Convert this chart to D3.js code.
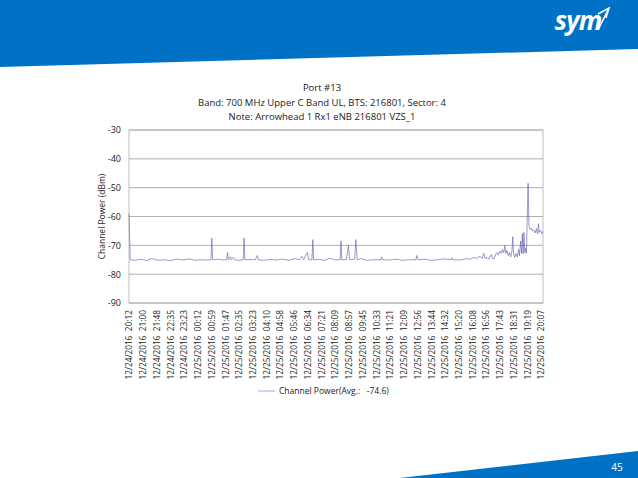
<!DOCTYPE html>
<html lang="en">
<head>
<meta charset="utf-8">
<script src="https://d3js.org/d3.v7.js"></script>
<style>
  body { margin: 0; background: white; }
  text { font-family: "Open Sans", "Noto Sans", sans-serif; }
</style>
</head>
<body>
<script>
// sample position along the run (0..1000) and channel power in dBm
const sampleIdx = [0,3,15,30,42,55,70,85,100,115,130,145,160,175,190,198,200,202,215,228,236,238,240,245,247,252,255,265,276,278,280,292,305,310,312,325,340,355,370,385,400,412,418,422,428,431,434,442,444,446,460,472,485,500,510,512,514,525,530,533,545,548,551,560,575,590,608,610,613,630,645,660,675,693,695,698,715,730,745,760,778,780,783,800,815,825,832,840,848,853,857,860,865,870,875,878,882,886,889,892,896,899,902,905,908,910,913,916,919,922,925,927,929,932,935,938,941,943,946,948,950,952,954,956,958,960,962,964,966,969,972,975,978,981,984,987,989,991,994,997,1000];
const power = [-59,-75,-75.2,-74.8,-75.3,-74.6,-75.2,-75,-75.3,-74.8,-75.1,-74.7,-75.2,-75,-75.1,-75,-67.5,-75,-74.8,-75.1,-74.9,-72.5,-75,-74,-75,-74.2,-75,-75.2,-75,-67.5,-75,-74.9,-75,-73.5,-75,-75.2,-74.9,-75.1,-74.8,-75.2,-74.6,-75,-73.8,-75,-73,-72.5,-75,-75,-68,-75,-74.9,-75.2,-74.5,-75.1,-75,-68.5,-75,-75,-70,-75,-74.8,-68,-75,-74.6,-75.2,-75,-75,-74,-75,-75.1,-74.8,-75.2,-75,-75,-73.5,-75,-74.8,-75.2,-75,-74.7,-75,-74.3,-75,-75.1,-74.6,-74.8,-74.2,-74.5,-73.8,-74.6,-72.8,-74.5,-74.3,-74.8,-73.2,-74.6,-74.7,-73,-72.5,-73.4,-72,-72.8,-71.5,-72.6,-70,-72.8,-71.8,-73.6,-72.4,-74,-72,-67,-73,-74.2,-72.8,-74,-71.5,-73.6,-68.5,-72.8,-66,-73,-65.5,-72.5,-71,-72.8,-60,-48.5,-63,-64.5,-64,-65,-64.8,-65.7,-64.2,-66,-62.5,-65.5,-64.8,-66,-65.2];
const timeLabels = ["12/24/2016  20:12","12/24/2016  21:00","12/24/2016  21:48","12/24/2016  22:35","12/24/2016  23:23","12/25/2016  00:12","12/25/2016  00:59","12/25/2016  01:47","12/25/2016  02:35","12/25/2016  03:23","12/25/2016  04:10","12/25/2016  04:58","12/25/2016  05:46","12/25/2016  06:34","12/25/2016  07:21","12/25/2016  08:09","12/25/2016  08:57","12/25/2016  09:45","12/25/2016  10:33","12/25/2016  11:21","12/25/2016  12:09","12/25/2016  12:56","12/25/2016  13:44","12/25/2016  14:32","12/25/2016  15:20","12/25/2016  16:08","12/25/2016  16:56","12/25/2016  17:43","12/25/2016  18:31","12/25/2016  19:19","12/25/2016  20:07"];
const yTicks = [-30,-40,-50,-60,-70,-80,-90];
const titleLines = ["Port #13","Band: 700 MHz Upper C Band UL, BTS: 216801, Sector: 4","Note: Arrowhead 1 Rx1 eNB 216801 VZS_1"];

const w = 638, h = 478;
const plot = {left: 129, right: 543, top: 130, bottom: 303};

const svg = d3.select("body").append("svg").attr("width", w).attr("height", h);

// header and footer bands
svg.append("polygon").attr("points", `0,0 ${w},0 ${w},49 0,67`).attr("fill", "#0072C6");
svg.append("polygon").attr("points", `400,${h} ${w},451 ${w},${h}`).attr("fill", "#0072C6");
svg.append("text").attr("x", 578).attr("y", 30).attr("text-anchor", "middle")
   .attr("fill", "white").attr("font-size", 26).attr("font-weight", "bold").attr("font-style", "italic")
   .attr("letter-spacing", -1).text("sym");
svg.append("path").attr("d", "M598,14 L609,8 L606,18 M609,8 L598,30").attr("stroke", "white").attr("stroke-width", 1.5).attr("fill", "none");
svg.append("text").attr("x", 617).attr("y", 471).attr("text-anchor", "middle")
   .attr("fill", "white").attr("font-size", 10).text("45");

// title
svg.selectAll(".title").data(titleLines).enter().append("text")
   .attr("x", 322).attr("y", (d, i) => 91 + i * 14.5).attr("text-anchor", "middle")
   .attr("font-size", 9.5).attr("fill", "#222").text(d => d);

const xScale = d3.scaleLinear().domain([0, 1000]).range([plot.left, plot.right]);
const xLab = d3.scalePoint().domain(timeLabels).range([plot.left, plot.right - 2]);
const yScale = d3.scaleLinear().domain([-90, -30]).range([plot.bottom, plot.top]);

// gridlines
svg.append("g").selectAll("line").data(yTicks).enter().append("line")
   .attr("x1", plot.left).attr("x2", plot.right)
   .attr("y1", d => yScale(d)).attr("y2", d => yScale(d))
   .attr("stroke", "#9a9a9a").attr("stroke-width", 0.8);
svg.append("rect").attr("x", plot.left).attr("y", plot.top)
   .attr("width", plot.right - plot.left).attr("height", plot.bottom - plot.top)
   .attr("fill", "none").attr("stroke", "#b0b0b0").attr("stroke-width", 0.8);

// y axis
const yAxis = d3.axisLeft(yScale).tickValues(yTicks).tickFormat(d => String(d)).tickSize(0).tickPadding(8);
svg.append("g").attr("transform", `translate(${plot.left},0)`).call(yAxis)
   .call(g => g.select(".domain").remove())
   .selectAll("text").attr("font-size", 9).attr("fill", "#222")
   .style("font-family", "'Open Sans', 'Noto Sans', sans-serif");
svg.append("text").attr("transform", `translate(105,${(plot.top + plot.bottom) / 2}) rotate(-90)`)
   .attr("text-anchor", "middle").attr("font-size", 8.5).attr("fill", "#222").text("Channel Power (dBm)");

// x axis
const xAxis = d3.axisBottom(xLab).tickSize(0).tickPadding(0);
svg.append("g").attr("transform", `translate(0,${plot.bottom})`).call(xAxis)
   .call(g => g.select(".domain").remove())
   .selectAll("text").attr("font-size", 8.3).attr("fill", "#222")
   .style("font-family", "'Open Sans', 'Noto Sans', sans-serif")
   .style("white-space", "pre")
   .attr("text-anchor", "end").attr("dy", "0.35em")
   .attr("transform", "translate(0,7) rotate(-90)");

// series
const line = d3.line().x((d, i) => xScale(sampleIdx[i])).y(d => yScale(d));
svg.append("path").datum(power).attr("d", line)
   .attr("fill", "none").attr("stroke", "#5557ad").attr("stroke-width", 0.6);

// legend
svg.append("line").attr("x1", 258).attr("x2", 275).attr("y1", 391).attr("y2", 391)
   .attr("stroke", "#a8aad8").attr("stroke-width", 1);
svg.append("text").attr("x", 279).attr("y", 394).attr("font-size", 8.5).attr("fill", "#222")
   .style("white-space", "pre").text("Channel Power(Avg.:   -74.6)");
</script>
</body>
</html>
